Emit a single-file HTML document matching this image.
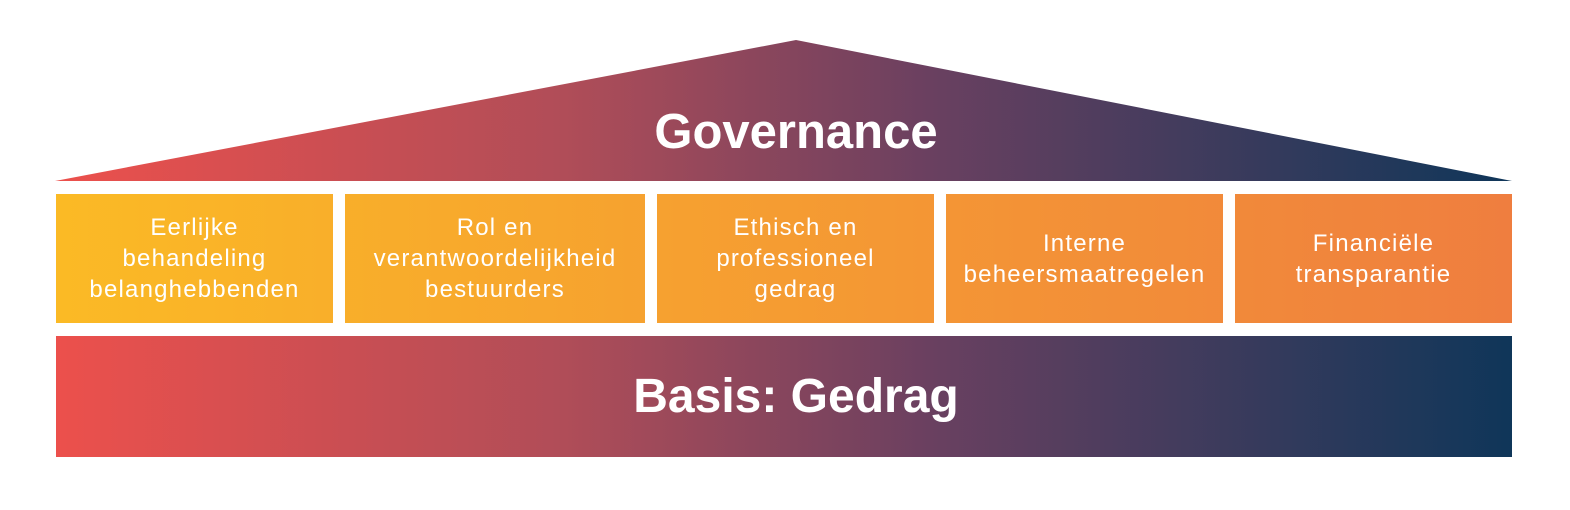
<!DOCTYPE html>
<html><head><meta charset="utf-8"><style>
html,body{margin:0;padding:0;background:#fff;width:1570px;height:510px;overflow:hidden;font-family:"Liberation Sans",sans-serif;}
.p{position:absolute;top:194px;height:129px;color:#fff;font-size:24px;letter-spacing:1.2px;line-height:31px;text-align:center;display:flex;align-items:center;justify-content:center;}
</style></head><body>
<svg width="1570" height="510" style="position:absolute;left:0;top:0">
<defs>
<linearGradient id="g" x1="55" x2="1512" y1="0" y2="0" gradientUnits="userSpaceOnUse">
<stop offset="0" stop-color="#ec504c"/><stop offset="0.35" stop-color="#b04d58"/><stop offset="0.6" stop-color="#6a4060"/><stop offset="1" stop-color="#0f3659"/></linearGradient>
<linearGradient id="y" x1="56" x2="1512" y1="0" y2="0" gradientUnits="userSpaceOnUse">
<stop offset="0" stop-color="#fbba25"/><stop offset="1" stop-color="#ef7e3f"/></linearGradient>
</defs>
<polygon points="55,181 796,40 1512,181" fill="url(#g)"/>
<rect x="56" y="336" width="1456" height="121" fill="url(#g)"/>
<rect x="56" y="194" width="277" height="129" fill="url(#y)"/>
<rect x="345" y="194" width="300" height="129" fill="url(#y)"/>
<rect x="657" y="194" width="277" height="129" fill="url(#y)"/>
<rect x="946" y="194" width="277" height="129" fill="url(#y)"/>
<rect x="1235" y="194" width="277" height="129" fill="url(#y)"/>
<text x="796" y="148" fill="#fff" font-family="Liberation Sans, sans-serif" font-weight="bold" font-size="49" text-anchor="middle">Governance</text>
<text x="796" y="412" fill="#fff" font-family="Liberation Sans, sans-serif" font-weight="bold" font-size="48" text-anchor="middle">Basis: Gedrag</text>
</svg>
<div class="p" style="left:56px;width:277px">Eerlijke<br>behandeling<br>belanghebbenden</div>
<div class="p" style="left:345px;width:300px">Rol en<br>verantwoordelijkheid<br>bestuurders</div>
<div class="p" style="left:657px;width:277px">Ethisch en<br>professioneel<br>gedrag</div>
<div class="p" style="left:946px;width:277px">Interne<br>beheersmaatregelen</div>
<div class="p" style="left:1235px;width:277px">Financiële<br>transparantie</div>
</body></html>
